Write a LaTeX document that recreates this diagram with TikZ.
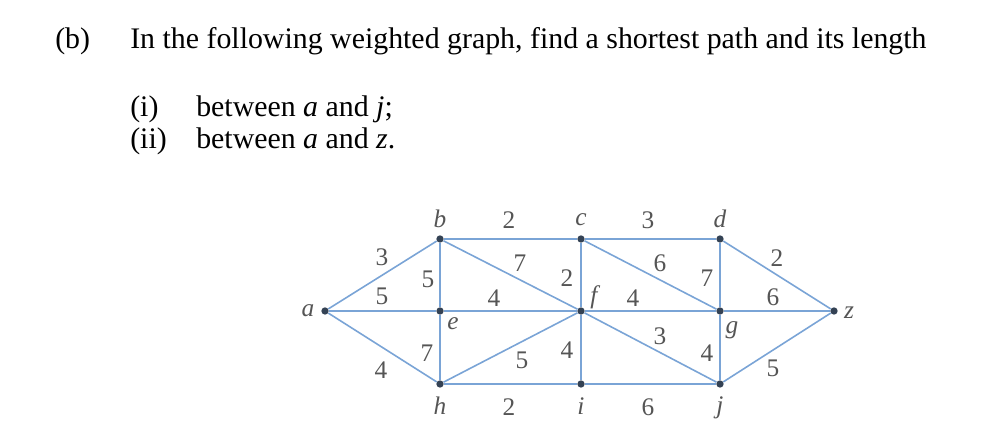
\documentclass[tikz,border=0pt]{standalone}
\usepackage{fontspec}
\setmainfont{Liberation Serif}
\definecolor{edgeblue}{RGB}{122,164,214}
\definecolor{dotgray}{RGB}{52,66,84}
\definecolor{labgray}{RGB}{85,85,85}
\tikzset{
  vtx/.style={circle,fill=dotgray,inner sep=0pt,minimum size=5.5pt},
  wt/.style={inner sep=0.75pt,font=\fontsize{19}{22}\selectfont,text=labgray},
  vname/.style={inner sep=0.75pt,font=\fontsize{19}{22}\selectfont\itshape,text=labgray},
  edge/.style={draw=edgeblue,line width=1.2pt}
}
\begin{document}
\begin{tikzpicture}[x=0.75pt,y=0.75pt,yscale=-1,xscale=1]
\useasboundingbox (0,0) rectangle (982,448);

% Text Node
\node (qb) [anchor=base west,inner sep=0pt,font=\fontsize{22.4}{26}\selectfont] at (55,49) {(b)};
% Text Node
\node (qtext) [anchor=base west,inner sep=0pt,font=\fontsize{22.4}{26}\selectfont] at (130,49) {In the following weighted graph, find a shortest path and its length};
% Text Node
\node (qi) [anchor=base west,inner sep=0pt,font=\fontsize{22.4}{26}\selectfont] at (130,117) {(i)};
\node (qitext) [anchor=base west,inner sep=0pt,font=\fontsize{22.4}{26}\selectfont] at (196,117) {between \textit{a} and \textit{j};};
% Text Node
\node (qii) [anchor=base west,inner sep=0pt,font=\fontsize{22.4}{26}\selectfont] at (130,149) {(ii)};
\node (qiitext) [anchor=base west,inner sep=0pt,font=\fontsize{22.4}{26}\selectfont] at (196,149) {between \textit{a} and \textit{z}.};

% vertices
\node[vtx] (a) at (325,311) {};
\node[vtx] (b) at (440,239) {};
\node[vtx] (e) at (440,311) {};
\node[vtx] (h) at (440,384) {};
\node[vtx] (c) at (581,239) {};
\node[vtx] (f) at (581,311) {};
\node[vtx] (i) at (581,384) {};
\node[vtx] (d) at (720,239) {};
\node[vtx] (g) at (720,311) {};
\node[vtx] (j) at (720,384) {};
\node[vtx] (z) at (834,311) {};

% edges
\draw[edge] (a) -- (b);
\draw[edge] (a) -- (e);
\draw[edge] (a) -- (h);
\draw[edge] (b) -- (e) -- (h);
\draw[edge] (b) -- (c) -- (d);
\draw[edge] (e) -- (f) -- (g) -- (z);
\draw[edge] (h) -- (i) -- (j);
\draw[edge] (b) -- (f);
\draw[edge] (h) -- (f);
\draw[edge] (c) -- (f) -- (i);
\draw[edge] (c) -- (g);
\draw[edge] (f) -- (j);
\draw[edge] (d) -- (g) -- (j);
\draw[edge] (d) -- (z);
\draw[edge] (j) -- (z);

% vertex names
\node[vname] (la) at (308,311) {a};
\node[vname] (lb) at (440,219) {b};
\node[vname] (lc) at (581,220) {c};
\node[vname] (ld) at (720,219) {d};
\node[vname] (le) at (453,324) {e};
\node[vname] (lf) at (594,297) {f};
\node[vname] (lg) at (732,330) {g};
\node[vname] (lh) at (440,406) {h};
\node[vname] (li) at (581,406) {i};
\node[vname] (lj) at (720,408) {j};
\node[vname] (lz) at (849,313) {z};

% weights
\node[wt] (wab) at (382,257) {3};
\node[wt] (wae) at (382,296) {5};
\node[wt] (wah) at (381,370) {4};
\node[wt] (wbe) at (428,279) {5};
\node[wt] (weh) at (427,353) {7};
\node[wt] (wbc) at (509,220) {2};
\node[wt] (wbf) at (520,263) {7};
\node[wt] (wef) at (494,298) {4};
\node[wt] (whf) at (522,360) {5};
\node[wt] (whi) at (509,407) {2};
\node[wt] (wcf) at (567,278) {2};
\node[wt] (wfi) at (567,350) {4};
\node[wt] (wcd) at (648,220) {3};
\node[wt] (wcg) at (660,263) {6};
\node[wt] (wfg) at (633,298) {4};
\node[wt] (wfj) at (660,336) {3};
\node[wt] (wij) at (648,407) {6};
\node[wt] (wdg) at (707,278) {7};
\node[wt] (wgj) at (707,353) {4};
\node[wt] (wdz) at (777,258) {2};
\node[wt] (wgz) at (773,297) {6};
\node[wt] (wjz) at (773,368) {5};

\end{tikzpicture}
\end{document}
